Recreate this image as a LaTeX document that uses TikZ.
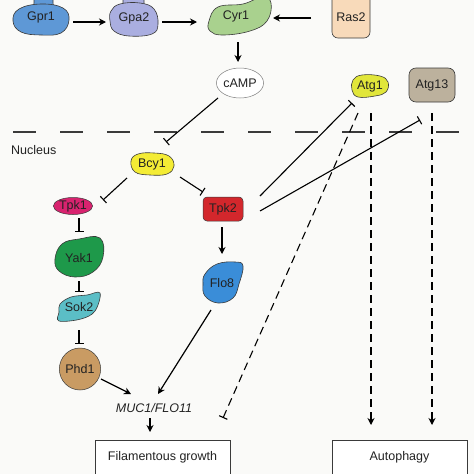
\documentclass[tikz,border=0pt]{standalone}
\usepackage{fontspec}
\setmainfont{Liberation Sans}
\usetikzlibrary{arrows.meta,shapes.geometric}
\definecolor{outl}{HTML}{3A3A3A}
\definecolor{txt}{HTML}{222222}
\definecolor{cGpr}{HTML}{5E98D6}
\definecolor{cGpa}{HTML}{AAAEE0}
\definecolor{cCyr}{HTML}{A9D18E}
\definecolor{cRas}{HTML}{F8DABA}
\definecolor{cBcy}{HTML}{F4EC35}
\definecolor{cTpkA}{HTML}{D8236F}
\definecolor{cTpkB}{HTML}{D3272C}
\definecolor{cYak}{HTML}{1E994A}
\definecolor{cSok}{HTML}{5BBEC6}
\definecolor{cPhd}{HTML}{C99B63}
\definecolor{cFlo}{HTML}{3A8DD8}
\definecolor{cAtgA}{HTML}{E1E63A}
\definecolor{cAtgB}{HTML}{BCB19D}
\definecolor{bg}{HTML}{FAFAF8}
\begin{document}
\begin{tikzpicture}[x=1pt,y=-1pt,
  font=\fontsize{12.5}{14}\selectfont, text=txt,
  blobst/.style={draw=outl, line width=0.6pt},
  lbl/.style={inner sep=0pt},
  act/.style={line width=1.2pt, -{Stealth[length=7pt,width=7pt]}},
  inh/.style={line width=1.1pt, -{Bar[width=9pt,line width=1.1pt]}},
  dact/.style={act, dash pattern=on 8pt off 5pt},
  dinh/.style={inh, dash pattern=on 8pt off 5pt},
  box/.style={draw=outl, line width=0.8pt, fill=white, inner sep=0pt}]
\useasboundingbox[fill=bg] (0,0) rectangle (474,474);

% nucleus membrane
\draw[line width=1.2pt, dash pattern=on 23pt off 24pt, outl] (13,132) -- (472,132);
\node[lbl, anchor=west] (nuc) at (11,150) {Nucleus};

% Gpr1
\path[blobst, fill=cGpr] (34,-3) -- (34,3) .. controls (34,6) .. (30,9) -- (57,9) .. controls (53,6) .. (53,3) -- (53,-3) -- cycle;
\path[blobst, fill=cGpr, shift={(41,20)}] plot[smooth cycle, tension=0.7] coordinates {(-28,1) (-22,-11) (0,-16) (22,-12) (28,0) (20,13) (0,15) (-20,12)};
\node[lbl] (gpr1) at (41,17) {Gpr1};
% Gpa2
\path[blobst, fill=cGpa] (123,-3) -- (123,3) .. controls (123,6) .. (119,9) -- (148,9) .. controls (144,6) .. (144,3) -- (144,-3) -- cycle;
\path[blobst, fill=cGpa, shift={(134,19)}] plot[smooth cycle, tension=0.7] coordinates {(-23,-8) (-14,-15) (6,-16) (20,-10) (24,5) (18,15) (-5,17) (-20,12) (-24,2)};
\node[lbl] (gpa2) at (134,18) {Gpa2};
% Cyr1
\path[blobst, fill=cCyr, shift={(238,17)}] plot[smooth cycle, tension=0.7] coordinates {(-29,4) (-20,-10) (5,-13) (24,-20) (33,-14) (29,4) (12,14) (-15,18) (-28,14)};
\node[lbl] (cyr1) at (236,16) {Cyr1};
% Ras2
\node[draw=outl, line width=0.6pt, fill=cRas, rounded corners=6pt, minimum width=38pt, minimum height=44pt, inner sep=0pt] (ras2box) at (351,16) {};
\node[lbl] (ras2) at (351,17) {Ras2};
% cAMP
\node[ellipse, draw=gray, line width=0.5pt, fill=white, minimum width=36pt, minimum height=30pt, inner sep=0pt] (camp) at (240,83) {cAMP};

% Bcy1
\path[blobst, fill=cBcy, shift={(152,164)}] plot[smooth cycle, tension=0.7] coordinates {(-21,-3) (-14,-10) (2,-11) (17,-8) (22,2) (15,10) (-2,11) (-17,8)};
\node[lbl] (bcy1) at (152,164) {Bcy1};
% Tpk1
\node[ellipse, draw=outl, line width=0.5pt, fill=cTpkA, minimum width=37pt, minimum height=17pt, inner sep=0pt] (tpk1) at (73,206) {Tpk1};
% Tpk2
\node[draw=outl, line width=0.5pt, fill=cTpkB, rounded corners=4pt, minimum width=40pt, minimum height=24pt, inner sep=0pt] (tpk2) at (223,209) {Tpk2};
% Yak1
\path[blobst, fill=cYak, shift={(79,257)}] plot[smooth cycle, tension=0.7] coordinates {(-24,2) (-17,-13) (0,-18) (21,-19) (24,0) (14,15) (-4,20) (-20,14)};
\node[lbl] (yak1) at (79,258) {Yak1};
% Sok2
\path[blobst, fill=cSok, shift={(79,307)}] plot[smooth cycle, tension=0.6] coordinates {(-19,-3) (-8,-10) (8,-12) (21,-14) (16,4) (2,12) (-20,14) (-20,5)};
\node[lbl] (sok2) at (79,307) {Sok2};
% Phd1
\node[ellipse, draw=outl, line width=0.5pt, fill=cPhd, minimum width=34pt, minimum height=42pt, inner sep=0pt] (phd1) at (80,369) {Phd1};
% Flo8
\path[blobst, fill=cFlo, shift={(223,282)}] plot[smooth cycle, tension=0.7] coordinates {(-18,-8) (-6,-18) (12,-20) (20,-16) (16,2) (10,16) (-5,21) (-18,14) (-20,2)};
\node[lbl] (flo8) at (222,283) {Flo8};
% Atg1
\path[blobst, fill=cAtgA, shift={(370,86)}] plot[smooth cycle, tension=0.7] coordinates {(-17,-6) (-8,-11) (10,-10) (18,-4) (16,6) (5,10) (-12,11) (-18,4)};
\node[lbl] (atg1) at (370,86) {Atg1};
% Atg13
\node[draw=outl, line width=0.6pt, fill=cAtgB, rounded corners=7pt, minimum width=46pt, minimum height=34pt, inner sep=0pt] (atg13) at (432,85) {Atg13};

% MUC1/FLO11
\node[lbl] (muc) at (154,408) {\itshape MUC1/FLO11};
% outputs
\node[box, anchor=north, minimum width=135pt, minimum height=40pt] (fil) at (162.5,440) {};
\node[lbl] (filt) at (162.5,457) {Filamentous growth};
\node[box, anchor=north, minimum width=135pt, minimum height=40pt] (aut) at (399.5,440) {};
\node[lbl] (autt) at (399.5,457) {Autophagy};

% connectors
\draw[act] ([shift={(32,5)}]gpr1.center) -- ([shift={(-28,4)}]gpa2.center);
\draw[act] ([shift={(28,4)}]gpa2.center) -- ([shift={(-39,6)}]cyr1.center);
\draw[act] ([shift={(-40,1)}]ras2.center) -- ([shift={(37,2)}]cyr1.center);
\draw[act] ([shift={(2,26)}]cyr1.center) -- ([shift={(-2,-21)}]camp.center);
\draw[inh] ([shift={(-22,15)}]camp.center) -- ([shift={(14,-22)}]bcy1.center);
\draw[inh] ([shift={(-25,14)}]bcy1.center) -- ([shift={(30,-6)}]tpk1.center);
\draw[inh] ([shift={(28,13)}]bcy1.center) -- ([shift={(-20,-17)}]tpk2.center);
\draw[inh] ([shift={(6,12)}]tpk1.center) -- ([shift={(0,-26)}]yak1.center);
\draw[inh] ([shift={(0,23)}]yak1.center) -- ([shift={(0,-15)}]sok2.center);
\draw[inh] ([shift={(0,23)}]sok2.center) -- ([shift={(-1,-25)}]phd1.center);
\draw[act] ([shift={(-1,18)}]tpk2.center) -- ([shift={(0,-29)}]flo8.center);
\draw[act] ([shift={(-11,27)}]flo8.center) -- ([shift={(4,-14)}]muc.center);
\draw[act] ([shift={(21,10)}]phd1.center) -- ([shift={(-23,-14)}]muc.center);
\draw[act] ([shift={(-4,10)}]muc.center) -- ([shift={(-12.5,-8)}]fil.north);
\draw[inh] ([shift={(37,-13)}]tpk2.center) -- ([shift={(-18,17)}]atg1.center);
\draw[inh] ([shift={(37,2)}]tpk2.center) -- ([shift={(-12,35)}]atg13.center);
\draw[dinh] ([shift={(-12,27)}]atg1.center) -- ([shift={(60.5,-22)}]fil.north);
\draw[dact] ([shift={(1,27)}]atg1.center) -- ([shift={(-28.5,-15)}]aut.north);
\draw[dact] ([shift={(0,28)}]atg13.center) -- ([shift={(32.5,-15)}]aut.north);
\end{tikzpicture}
\end{document}
